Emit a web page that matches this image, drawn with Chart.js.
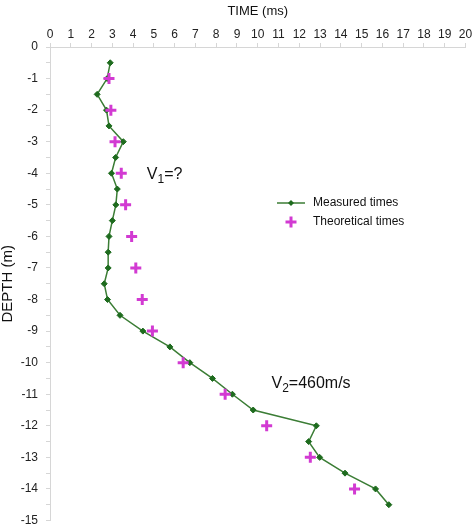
<!DOCTYPE html>
<html>
<head>
<meta charset="utf-8">
<script src="https://cdn.jsdelivr.net/npm/chart.js@4/dist/chart.umd.min.js"></script>
<style>
  html, body { margin: 0; padding: 0; background: #fff; }
  #wrap { width: 474px; height: 529px; }
</style>
</head>
<body>
<div id="wrap"><canvas id="c" width="474" height="529"></canvas></div>
<script>
// Measured times (ms) vs depth (m)
const measuredDepth = [-0.5,-1,-1.5,-2,-2.5,-3,-3.5,-4,-4.5,-5,-5.5,-6,-6.5,-7,-7.5,-8,-8.5,-9,-9.5,-10,-10.5,-11,-11.5,-12,-12.5,-13,-13.5,-14,-14.5];
const measuredTime  = [2.9,2.75,2.27,2.72,2.84,3.53,3.16,2.96,3.24,3.17,3.0,2.84,2.8,2.8,2.61,2.77,3.37,4.47,5.77,6.73,7.82,8.78,9.78,12.82,12.45,12.98,14.2,15.67,16.31];
// Theoretical times (ms) vs depth (m)
const theoDepth = [-1,-2,-3,-4,-5,-6,-7,-8,-9,-10,-11,-12,-13,-14];
const theoTime  = [2.84,2.93,3.13,3.43,3.64,3.93,4.13,4.44,4.93,6.41,8.43,10.43,12.53,14.66];
// Axis ranges / labels
const xMin = 0, xMax = 20, xStep = 1;
const yMin = -15, yMax = 0, yStep = 0.5;
const xTitle = 'TIME (ms)';
const yTitle = 'DEPTH (m)';
const seriesNames = ['Measured times', 'Theoretical times'];
// Annotations: [main, subscript, rest, x(ms), y(m)]
const annotations = [
  ['V', '1', '=?', 4.66, -3.99],
  ['V', '2', '=460m/s', 10.66, -10.6]
];

const FONT = '"Liberation Sans", Arial, sans-serif';
const GREEN_LINE = '#3b7d35';
const GREEN_PT = '#1e6b1e';
const MAGENTA = '#d23ad2';
const AXIS = '#d6d6d6';

const measured = measuredTime.map((t, i) => ({x: t, y: measuredDepth[i]}));
const theo = theoTime.map((t, i) => ({x: t, y: theoDepth[i]}));

const overlay = {
  id: 'overlay',
  afterDatasetsDraw(chart) {
    const ctx = chart.ctx;
    const xs = chart.scales.x, ys = chart.scales.y;
    ctx.save();
    ctx.fillStyle = '#111';
    ctx.textBaseline = 'alphabetic';
    ctx.textAlign = 'left';
    annotations.forEach(a => {
      let px = xs.getPixelForValue(a[3]);
      const py = ys.getPixelForValue(a[4]) + 6;
      ctx.font = '16px ' + FONT;
      ctx.fillText(a[0], px, py);
      px += ctx.measureText(a[0]).width;
      ctx.font = '12px ' + FONT;
      ctx.fillText(a[1], px, py + 4);
      px += ctx.measureText(a[1]).width;
      ctx.font = '16px ' + FONT;
      ctx.fillText(a[2], px, py);
    });
    // legend
    const lx = 291, ly1 = 203, ly2 = 222;
    ctx.strokeStyle = GREEN_LINE; ctx.lineWidth = 1.5;
    ctx.beginPath(); ctx.moveTo(277, ly1); ctx.lineTo(305, ly1); ctx.stroke();
    ctx.fillStyle = GREEN_PT;
    ctx.beginPath();
    ctx.moveTo(lx, ly1 - 3); ctx.lineTo(lx + 3, ly1); ctx.lineTo(lx, ly1 + 3); ctx.lineTo(lx - 3, ly1); ctx.closePath();
    ctx.fill();
    ctx.strokeStyle = MAGENTA; ctx.lineWidth = 3;
    ctx.beginPath();
    ctx.moveTo(lx - 5.5, ly2); ctx.lineTo(lx + 5.5, ly2);
    ctx.moveTo(lx, ly2 - 5.5); ctx.lineTo(lx, ly2 + 5.5);
    ctx.stroke();
    ctx.fillStyle = '#111';
    ctx.font = '12px ' + FONT;
    ctx.textBaseline = 'middle';
    ctx.fillText(seriesNames[0], 313, ly1);
    ctx.fillText(seriesNames[1], 313, ly2);
    ctx.restore();
  }
};

new Chart(document.getElementById('c'), {
  type: 'scatter',
  data: {
    datasets: [
      {
        label: seriesNames[0],
        data: measured,
        showLine: true,
        borderColor: GREEN_LINE,
        borderWidth: 1.5,
        pointStyle: 'rectRot',
        pointRadius: 3,
        pointBackgroundColor: GREEN_PT,
        pointBorderColor: GREEN_PT,
        pointBorderWidth: 1,
        order: 2
      },
      {
        label: seriesNames[1],
        data: theo,
        showLine: false,
        pointStyle: 'cross',
        pointRadius: 5.5,
        pointBorderColor: MAGENTA,
        pointBackgroundColor: MAGENTA,
        pointBorderWidth: 3,
        order: 1
      }
    ]
  },
  options: {
    responsive: false,
    animation: false,
    layout: { padding: { left: 0, right: 8, top: 0, bottom: 8 } },
    plugins: { legend: { display: false }, tooltip: { enabled: false } },
    scales: {
      x: {
        type: 'linear',
        position: 'top',
        min: xMin, max: xMax,
        afterFit(s) { s.height = 47; s.paddingLeft = 0; s.paddingRight = 0; },
        ticks: { stepSize: xStep, padding: 1, color: '#222', font: { family: FONT, size: 12 }, maxRotation: 0, autoSkip: false },
        grid: { drawOnChartArea: false, drawTicks: true, tickLength: 4, color: AXIS, tickColor: AXIS },
        border: { display: true, color: AXIS, width: 1 },
        title: { display: true, text: xTitle, color: '#111', font: { family: FONT, size: 13 }, padding: { top: 4, bottom: 0 } }
      },
      y: {
        type: 'linear',
        position: 'left',
        min: yMin, max: yMax,
        afterFit(s) { s.width = 50; s.paddingTop = 0; s.paddingBottom = 0; },
        afterBuildTicks(s) {
          const t = [];
          for (let v = yMin; v <= yMax + 1e-9; v += yStep) t.push({ value: Math.round(v * 10) / 10 });
          s.ticks = t;
        },
        ticks: {
          stepSize: yStep, padding: 8, color: '#222', font: { family: FONT, size: 12 }, autoSkip: false,
          callback: v => Number.isInteger(v) ? String(v) : ''
        },
        grid: { drawOnChartArea: false, drawTicks: true, tickLength: 4, color: AXIS, tickColor: AXIS },
        border: { display: true, color: AXIS, width: 1 },
        title: { display: true, text: yTitle, color: '#111', font: { family: FONT, size: 15, lineHeight: 1 }, padding: { top: 0, bottom: 0 } }
      }
    }
  },
  plugins: [overlay]
});
</script>
</body>
</html>
